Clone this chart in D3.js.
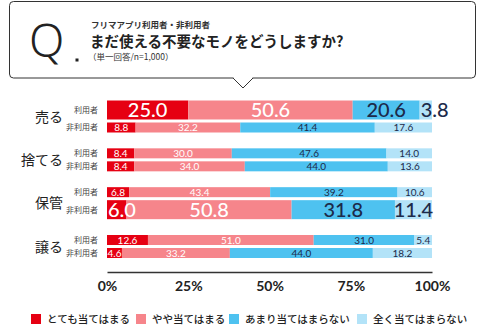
<!DOCTYPE html>
<html>
<head>
<meta charset="utf-8">
<script src="https://cdn.jsdelivr.net/npm/d3@7"></script>
<style>
  html, body { margin: 0; padding: 0; background: #fff; }
  svg { display: block; }
</style>
</head>
<body>
<div id="chart"></div>
<script>
// アンケート結果: まだ使える不要なモノをどうしますか?

const categories = ["売る", "捨てる", "保管", "譲る"];
const groups = ["利用者", "非利用者"];
const answers = ["とても当てはまる", "やや当てはまる", "あまり当てはまらない", "全く当てはまらない"];

// 行の順: 売る(利用者, 非利用者), 捨てる(...), 保管(...), 譲る(...)
const veryTrue     = [25.0, 8.8, 8.4, 8.4, 6.8, 6.0, 12.6, 4.6];
const somewhatTrue = [50.6, 32.2, 30.0, 34.0, 43.4, 50.8, 51.0, 33.2];
const notReally    = [20.6, 41.4, 47.6, 44.0, 39.2, 31.8, 31.0, 44.0];
const notAtAll     = [3.8, 17.6, 14.0, 13.6, 10.6, 11.4, 5.4, 18.2];

const tickValues = [0, 25, 50, 75, 100];
const tickLabels = ["0%", "25%", "50%", "75%", "100%"];

// 強調する行
const highlighted = ["売る|利用者", "保管|非利用者"];

const colors = ["#e60012", "#f6858b", "#4ec2f0", "#b3e3f8"];
const textColors = ["#fff", "#fff", "#1c2a4a", "#1c2a4a"];

const width = 483, height = 336;
const numFont = "Lato, 'Noto Sans', sans-serif";
const jpFont = "'Noto Sans CJK JP', sans-serif";

const rows = [];
categories.forEach((c, ci) => {
  groups.forEach((g, gi) => {
    const i = ci * 2 + gi;
    const row = { category: c, group: g, big: highlighted.includes(c + "|" + g) };
    [veryTrue, somewhatTrue, notReally, notAtAll].forEach((arr, k) => (row[answers[k]] = arr[i]));
    rows.push(row);
  });
});

const svg = d3.select("#chart").append("svg")
  .attr("width", width)
  .attr("height", height);

// --- 吹き出し ---
const header = svg.append("g");
header.append("rect")
  .attr("x", 9.5).attr("y", 1.5)
  .attr("width", 466).attr("height", 76.5)
  .attr("rx", 4)
  .attr("fill", "#fff")
  .attr("stroke", "#333")
  .attr("stroke-width", 1);
header.append("line")
  .attr("x1", 233.5).attr("x2", 252.5)
  .attr("y1", 78).attr("y2", 78)
  .attr("stroke", "#fff").attr("stroke-width", 2);
header.append("path")
  .attr("d", "M233,78L243,88L253,78")
  .attr("fill", "none")
  .attr("stroke", "#333")
  .attr("stroke-width", 1);

header.append("text")
  .attr("x", 29).attr("y", 57)
  .attr("font-family", "'Noto Sans', sans-serif")
  .attr("font-weight", 300)
  .attr("font-size", 46)
  .attr("fill", "#222")
  .text("Q");
header.append("rect")
  .attr("x", 75.5).attr("y", 58.5)
  .attr("width", 3).attr("height", 3)
  .attr("fill", "#222");

header.append("text")
  .attr("x", 91).attr("y", 27.5)
  .attr("font-family", jpFont)
  .attr("font-weight", 700)
  .attr("font-size", 8.5)
  .attr("fill", "#333")
  .text("フリマアプリ利用者・非利用者");
header.append("text")
  .attr("x", 90).attr("y", 46.5)
  .attr("font-family", jpFont)
  .attr("font-weight", 700)
  .attr("font-size", 14.5)
  .attr("fill", "#222")
  .text("まだ使える不要なモノをどうしますか?");
header.append("text")
  .attr("x", 88).attr("y", 59.5)
  .attr("font-family", jpFont)
  .attr("font-size", 8.5)
  .attr("fill", "#333")
  .text("（単一回答/n=1,000）");

// --- スケール ---
const x = d3.scaleLinear().domain([0, 100]).range([107, 432]);
const yGroup = d3.scalePoint().domain(categories).range([116.5, 246.5]);
const smallH = 10, bigH = 19, rowGap = 3;

// 行の位置
rows.forEach((r) => {
  r.h = r.big ? bigH : smallH;
});
categories.forEach((c) => {
  const rs = rows.filter((r) => r.category === c);
  const total = d3.sum(rs, (r) => r.h) + rowGap * (rs.length - 1);
  let top = yGroup(c) - total / 2;
  rs.forEach((r) => {
    r.y = top;
    top += r.h + rowGap;
  });
});

const stacked = d3.stack().keys(answers)(rows);

const chart = svg.append("g");

chart.selectAll("g.layer")
  .data(stacked)
  .join("g")
  .attr("class", "layer")
  .attr("fill", (d, i) => colors[i])
  .selectAll("rect")
  .data((d) => d)
  .join("rect")
  .attr("x", (d) => x(d[0]))
  .attr("y", (d) => d.data.y)
  .attr("width", (d) => x(d[1]) - x(d[0]))
  .attr("height", (d) => d.data.h);

// 数値ラベル（全ての棒の上に描く）
const narrow = (d) => d.data.big && x(d[1]) - x(d[0]) < 30;
chart.selectAll("g.labels")
  .data(stacked)
  .join("g")
  .attr("class", "labels")
  .attr("fill", (d, i) => textColors[i])
  .selectAll("text")
  .data((d) => d)
  .join("text")
  .attr("x", (d) => (narrow(d) ? x(d[0]) + 1 : (x(d[0]) + x(d[1])) / 2))
  .attr("y", (d) => d.data.y + d.data.h / 2)
  .attr("dy", "0.36em")
  .attr("text-anchor", (d) => (narrow(d) ? "start" : "middle"))
  .attr("font-family", numFont)
  .attr("font-size", (d) => (d.data.big ? 20 : 10))
  .attr("font-weight", (d) => (d.data.big ? 500 : 400))
  .text((d) => d3.format(".1f")(d[1] - d[0]));

// 行ラベル
chart.selectAll("text.group")
  .data(rows)
  .join("text")
  .attr("class", "group")
  .attr("x", 98)
  .attr("y", (d) => d.y + d.h / 2)
  .attr("dy", "0.36em")
  .attr("text-anchor", "end")
  .attr("font-family", jpFont)
  .attr("font-size", 8)
  .attr("fill", "#444")
  .text((d) => d.group);

// カテゴリラベル
chart.selectAll("text.category")
  .data(categories)
  .join("text")
  .attr("class", "category")
  .attr("x", 63)
  .attr("y", (d) => yGroup(d))
  .attr("dy", "0.36em")
  .attr("text-anchor", "end")
  .attr("font-family", jpFont)
  .attr("font-size", 14)
  .attr("font-weight", 400)
  .attr("fill", "#222")
  .text((d) => d);

// --- 軸 ---
const axis = svg.append("g")
  .attr("transform", "translate(0,272)")
  .call(d3.axisBottom(x).tickValues(tickValues).tickFormat((d, i) => tickLabels[i]).tickSize(0).tickPadding(9));
axis.select(".domain").attr("stroke", "#333").attr("stroke-width", 1.5);
axis.selectAll("text")
  .attr("font-family", numFont)
  .attr("font-size", 14)
  .attr("font-weight", 700)
  .attr("fill", "#222");

// --- 凡例 ---
const legendX = [31, 136, 229, 357];
const legend = svg.append("g")
  .selectAll("g")
  .data(answers)
  .join("g")
  .attr("transform", (d, i) => `translate(${legendX[i]},314)`);
legend.append("rect")
  .attr("width", 10).attr("height", 10)
  .attr("fill", (d, i) => colors[i]);
legend.append("text")
  .attr("x", 16).attr("y", 5)
  .attr("dy", "0.36em")
  .attr("font-family", jpFont)
  .attr("font-size", 10.5)
  .attr("font-weight", 500)
  .attr("fill", "#222")
  .text((d) => d);
</script>
</body>
</html>
